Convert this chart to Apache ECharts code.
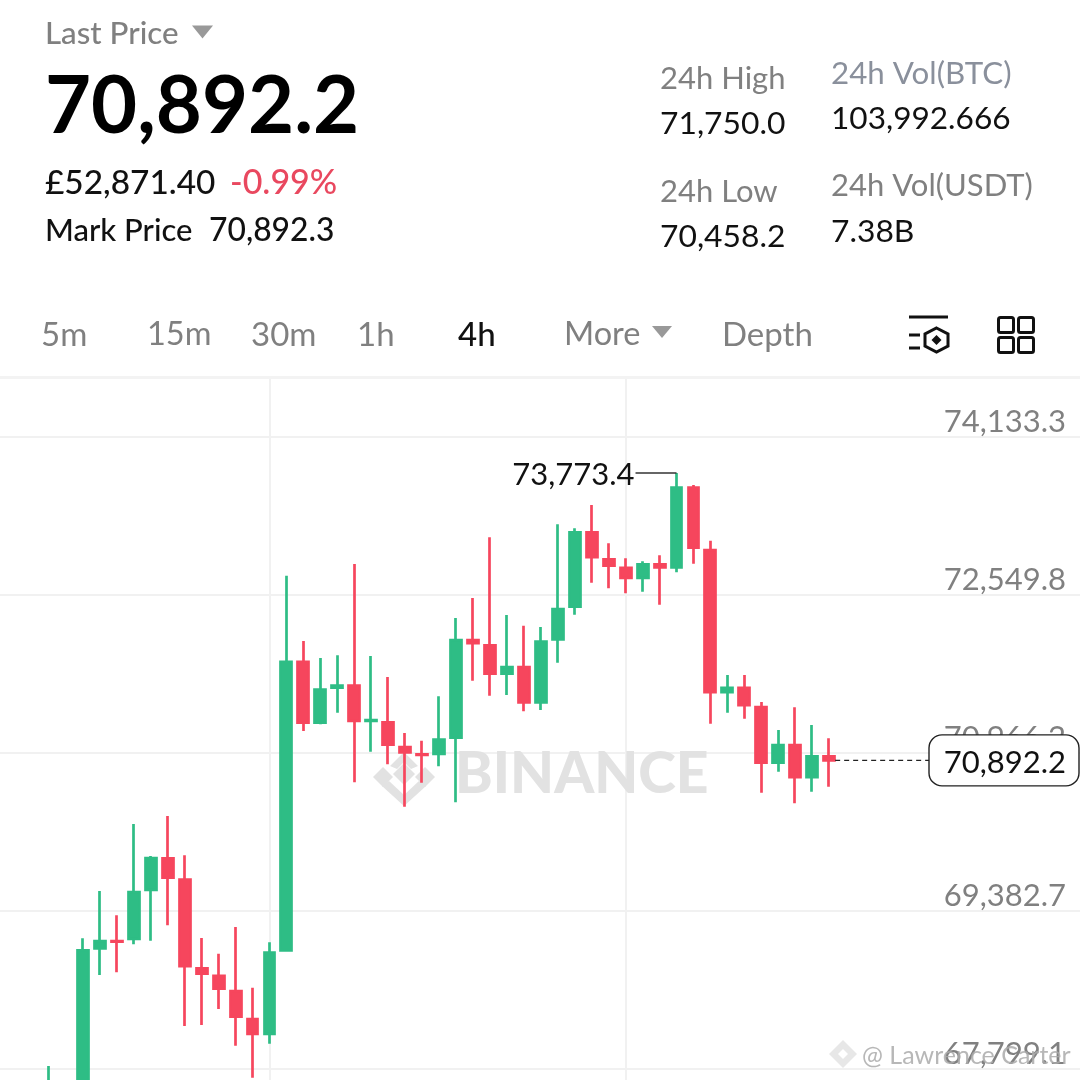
<!DOCTYPE html>
<html><head><meta charset="utf-8">
<style>html,body{margin:0;padding:0;background:#fff}#c{width:1080px;height:1080px}</style>
<script src="https://cdn.jsdelivr.net/npm/echarts@6/dist/echarts.min.js"></script>
</head><body><div id="c"></div>
<script>
const opens  = [null,null,null,67489,null,67539,69009,69082,69102,69593,69911,69697,68809,68734,68581,68300,68150,68989,71881,71270,71621,71641,71287,71274,71026,70953,70956,71120,72099,72046,71761,71828,71474,72106,72432,73178,72908,72823,72720,72857,72827,73625,73001,71575,71618,71427,70869,71046,70723,70933];
const closes = [null,null,null,67639,null,68989,69082,69075,69573,69914,69717,68829,68754,68604,68323,68150,68965,71881,71270,71601,71641,71287,71297,71050,70973,70946,71100,72099,72066,71761,71828,71474,72082,72409,73178,72928,72843,72720,72857,72827,73625,73024,71575,71618,71447,70869,71046,70723,70933,70892.2];
const lows   = [null,null,null,67439,null,67489,68741,68768,69049,69085,69240,68230,68240,68401,68033,67712,68053,68989,71187,71254,71370,70673,70979,70853,70428,70669,70833,70472,71691,71541,71548,71384,71397,71871,72352,72673,72617,72568,72583,72453,72777,72863,71260,71370,71310,70568,70779,70462,70578,70628];
const highs  = [null,null,null,67829,null,69109,69583,69340,70255,69934,70335,69941,69112,68955,69222,68614,69069,72743,72089,71918,71945,72860,71938,71728,71167,71090,71535,72319,72520,73128,72349,72242,72229,73258,73218,73452,73068,72918,72888,72948,73773.4,73652,73094,71748,71748,71477,71197,71424,71247,71114];
const trailingBands = 15;
const tickValues = [74133.3,72549.8,70966.2,69382.7,67799.1];
const verticalGridAt = [16,37];
const lastPrice = 70892.2, highPrice = 73773.4;
const highIndex = highs.indexOf(highPrice), lastIndex = closes.length-1;
const categories = [...opens.map((_,i)=>'c'+i), ...Array.from({length:trailingBands},(_,i)=>'t'+i)];
const fmt = v => v.toLocaleString('en-US',{minimumFractionDigits:1,maximumFractionDigits:1});
const F = 'Lato';
const GREEN='#2EBD85', RED='#F6465D', GREY='#808080';
const chart = echarts.init(document.getElementById('c'),null,{renderer:'canvas'});
function t(text,x,y,size,fill,weight,align,z,opacity){
  return {type:'text',z:z||5,style:{text,x,y,font:(weight||400)+' '+size+'px '+F,fill,textAlign:align||'left',textVerticalAlign:'middle',opacity:opacity==null?1:opacity},silent:true};
}
function tri(cx,cy,w,h,fill){return {type:'polygon',z:5,shape:{points:[[cx-w/2,cy-h/2],[cx+w/2,cy-h/2],[cx,cy+h/2]]},style:{fill},silent:true};}
function sq(x,y){return {type:'rect',z:5,shape:{x,y,width:15,height:15,r:2},style:{fill:'none',stroke:'#111',lineWidth:3},silent:true};}
function ln(x1,y1,x2,y2,w,c,dash){return {type:'line',z:6,shape:{x1,y1,x2,y2},style:{stroke:c,lineWidth:w,lineDash:dash||null,lineCap:'butt'},silent:true};}
function diamond(cx,cy,r,fill,z,op){return {type:'polygon',z:z,shape:{points:[[cx,cy-r],[cx+r,cy],[cx,cy+r],[cx-r,cy]]},style:{fill,opacity:op==null?1:op},silent:true};}
const header = [
  t('Last Price',45,34,31.3,GREY,500), tri(202.5,32,21,13,'#999'),
  t('70,892.2',45,107,79.5,'#000',700),
  t('£52,871.40',45,183,33.4,'#111',500), t('-0.99%',230,183,34,'#E9485F',500),
  t('Mark Price',45,231,31,'#111',500), t('70,892.3',209,231,31.8,'#111',500),
  t('24h High',660,79,31,GREY), t('71,750.0',660,124,31.8,'#111'),
  t('24h Low',660,192,31,GREY), t('70,458.2',660,237,31.8,'#111'),
  t('24h Vol(BTC)',831,74,31.3,'#8A909C'), t('103,992.666',831,119,31.6,'#111'),
  t('24h Vol(USDT)',831,186,31,GREY), t('7.38B',831,232,31.8,'#111'),
  t('5m',41,335,33,GREY), t('15m',147,335,32.5,GREY), t('30m',251,335,33,GREY), t('1h',357,335,33,GREY),
  t('4h',458,335,33,'#111',500), t('More',564,335,32.5,GREY), tri(662,332,20,12,'#999'), t('Depth',722,335,33,GREY),
  ln(909,317,948,317,3,'#111'), ln(909,335,920,335,3,'#111'), ln(909,348,920,348,3,'#111'),
  {type:'polygon',z:5,shape:{points:[[936.5,328],[948,334],[948,346],[936.5,352],[925,346],[925,334]]},style:{fill:'#fff',stroke:'#111',lineWidth:3},silent:true},
  diamond(936.5,340,5,'#111',6),
  sq(998.5,317.5),sq(1018.5,317.5),sq(998.5,337.5),sq(1018.5,337.5),
  {type:'rect',z:1,shape:{x:0,y:376,width:1080,height:3},style:{fill:'#F3F3F3'},silent:true},
  t('BINANCE',455,775,57,'#E2E2E2',900,'left',0),
  diamond(404,774,11,'#E2E2E2',0), diamond(383,777,10,'#E2E2E2',0), diamond(425,777,10,'#E2E2E2',0),
  {type:'polygon',z:0,shape:{points:[[404,752],[418,766],[411,769],[404,762],[397,769],[390,766]]},style:{fill:'#E2E2E2'},silent:true},
  {type:'polygon',z:0,shape:{points:[[404,806],[382,786],[389,781],[404,795],[419,781],[426,786]]},style:{fill:'#E2E2E2'},silent:true},
  t('@ Lawrence Carter',862,1056,25,'#AAAAAA',400,'left',7,0.85),
  diamond(843,1054,14,'#E4E4E4',7,0.9), diamond(843,1054,5,'#fff',8)
];
chart.setOption({
  animation:false,
  backgroundColor:'#fff',
  grid:{left:-10.36,width:1102.4,top:378,height:702,containLabel:false,outerBoundsMode:'none'},
  xAxis:{type:'category',data:categories,boundaryGap:true,
    axisLine:{show:false},axisTick:{show:false},axisLabel:{show:false},
    splitLine:{show:true,alignWithLabel:true,interval:(i)=>verticalGridAt.includes(i),lineStyle:{color:'#F1F1F1',width:2}}},
  yAxis:{type:'value',position:'right',min:67689,max:74724.6,scale:true,
    axisLine:{show:false},axisTick:{show:false,customValues:tickValues},
    axisLabel:{inside:true,margin:26,customValues:tickValues,formatter:fmt,color:GREY,fontFamily:F,fontSize:31,verticalAlign:'bottom',lineHeight:30},
    splitLine:{show:true,lineStyle:{color:'#F1F1F1',width:2}}},
  series:[{type:'candlestick',z:2,barWidth:11.4,clip:true,
    data:opens.map((o,i)=>[o,closes[i],lows[i],highs[i]]),
    itemStyle:{color:GREEN,color0:RED,borderColor:GREEN,borderColor0:RED,borderWidth:2.7}}],
  graphic:{elements:header}
});
const hp = chart.convertToPixel({seriesIndex:0},[highIndex,highPrice]);
const lp = chart.convertToPixel({seriesIndex:0},[lastIndex,lastPrice]);
chart.setOption({graphic:{elements:[...header,
  ln(hp[0]-41,hp[1],hp[0],hp[1],1.5,'#333'),
  t(fmt(highPrice),hp[0]-42,hp[1]+2,31,'#111',400,'right',6),
  ln(lp[0]+6,lp[1],930,lp[1],1.2,'#222',[5,4]),
  {type:'rect',z:8,shape:{x:929,y:lp[1]-25.5,width:150,height:51,r:13},style:{fill:'#fff',stroke:'#222',lineWidth:1.4},silent:true},
  t(fmt(lastPrice),1066,lp[1]+3,31,'#111',400,'right',9)
]}});
</script></body></html>
